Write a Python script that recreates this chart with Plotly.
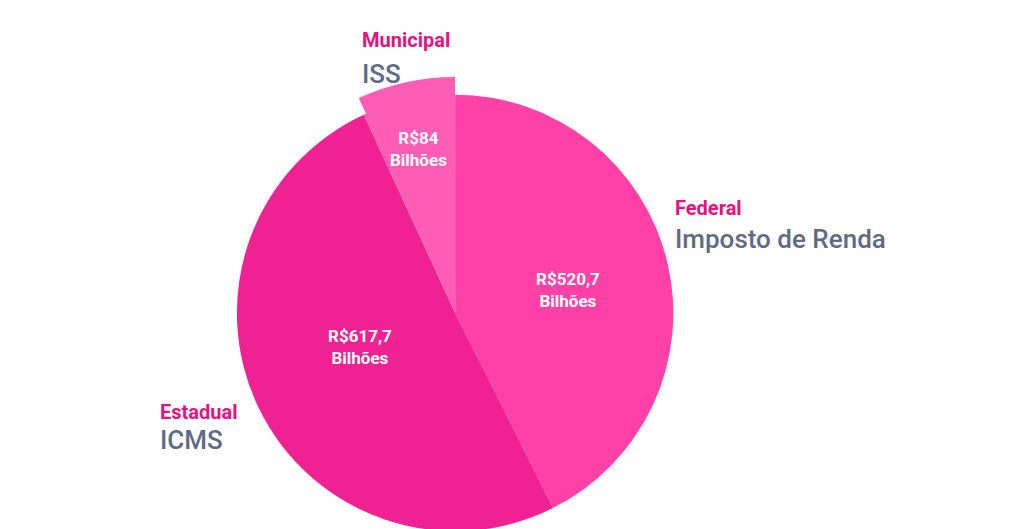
import plotly.graph_objects as go

categories = ["Federal", "Estadual", "Municipal"]
taxes = ["Imposto de Renda", "ICMS", "ISS"]
values = [520.7, 617.7, 84]
value_labels = ["R$520,7<br>Bilhões", "R$617,7<br>Bilhões", "R$84<br>Bilhões"]
colors = ["#FF40A6", "#F02192", "#FF5CB5"]

W, H = 1022, 529
def px(x): return x / W
def py(y): return 1 - y / H

fig = go.Figure()
# enlarged municipal slice (drawn underneath)
fig.add_trace(go.Pie(values=values, labels=categories, sort=False, direction="clockwise",
                     rotation=0, marker=dict(colors=["rgba(0,0,0,0)", "rgba(0,0,0,0)", colors[2]],
                     line=dict(width=0)), textinfo="none", hoverinfo="skip", showlegend=False,
                     domain=dict(x=[0.2123, 0.6624], y=[0.0, 0.87])))
# main pie
fig.add_trace(go.Pie(values=values, labels=categories, sort=False, direction="clockwise",
                     rotation=0, marker=dict(colors=colors, line=dict(width=0)),
                     textinfo="none", showlegend=False,
                     domain=dict(x=[0.224, 0.651], y=[0.011, 0.836])))

inside_pos = [(560, 282), (352, 362), (410, 118)]
outside_pos = [(665, 200), (150, 418), (352, 18)]
for i in range(3):
    x, y = inside_pos[i]
    fig.add_annotation(x=px(x), y=py(y), xref="paper", yref="paper", text=value_labels[i],
                       showarrow=False, font=dict(family="Roboto", size=17, color="white", weight="bold"),
                       align="center")
    x, y = outside_pos[i]
    fig.add_annotation(x=px(x), y=py(y), xref="paper", yref="paper", text=categories[i],
                       showarrow=False, xanchor="left", font=dict(family="Roboto", size=20,
                       color="#E5127F", weight="bold"))
    fig.add_annotation(x=px(x), y=py(y + 31), xref="paper", yref="paper", text=taxes[i],
                       showarrow=False, xanchor="left", font=dict(family="Roboto", size=26,
                       color="#5F6B85", weight=500))

fig.update_layout(width=W, height=H, margin=dict(l=0, r=0, t=0, b=0),
                  paper_bgcolor="white", plot_bgcolor="white")
fig.write_html("out.html")
